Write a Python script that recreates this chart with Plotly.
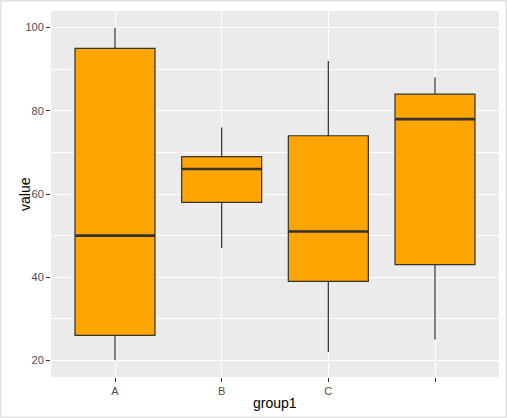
import plotly.graph_objects as go

groups = ["A", "B", "C", "D"]
tick_labels = ["A", "B", "C", ""]
lower = [20, 47, 22, 25]
q1 = [26, 58, 39, 43]
median = [50, 66, 51, 78]
q3 = [95, 69, 74, 84]
upper = [100, 76, 92, 88]

pos = list(range(len(groups)))
box_w = 0.75

fig = go.Figure()
fig.add_trace(go.Box(
    x=pos, q1=q1, median=median, q3=q3,
    lowerfence=lower, upperfence=upper,
    width=box_w, whiskerwidth=0,
    fillcolor="#FFA500",
    line=dict(color="#333333", width=1.2),
    boxpoints=False, hoverinfo="skip",
))

# ggplot draws the median thicker than the box outline
mx, my = [], []
for p, m in zip(pos, median):
    mx += [p - box_w / 2, p + box_w / 2, None]
    my += [m, m, None]
fig.add_trace(go.Scatter(x=mx, y=my, mode="lines",
                         line=dict(color="#333333", width=2.6),
                         hoverinfo="skip"))

fig.add_shape(type="rect", xref="paper", yref="paper",
              x0=-51 / 448, x1=456 / 448, y0=-41 / 366, y1=377 / 366,
              line=dict(color="#e3e3e3", width=3), layer="below")

fig.add_annotation(text="group1", xref="paper", yref="paper",
                   x=0.5, y=-26 / 366, yanchor="middle", showarrow=False,
                   font=dict(size=14, color="black"))
fig.add_annotation(text="value", xref="paper", yref="paper",
                   x=-36 / 448, y=0.5, textangle=-90, showarrow=False,
                   font=dict(size=14, color="black"))

fig.update_layout(
    width=507, height=418,
    margin=dict(l=51, r=8, t=11, b=41),
    paper_bgcolor="white", plot_bgcolor="#EBEBEB",
    showlegend=False,
    font=dict(family="Liberation Sans, Arial, sans-serif", size=11, color="#4d4d4d"),
    xaxis=dict(
        range=[-0.6, 3.6], tickmode="array", tickvals=pos, ticktext=tick_labels,
        showgrid=True, gridcolor="white", gridwidth=1.1, zeroline=False,
        ticks="outside", ticklen=4, tickcolor="#333333", tickwidth=1,
        automargin=False,
    ),
    yaxis=dict(
        range=[16, 104], tickvals=[20, 40, 60, 80, 100],
        showgrid=True, gridcolor="white", gridwidth=1.1, zeroline=False,
        ticks="outside", ticklen=4, tickcolor="#333333", tickwidth=1,
        automargin=False,
        minor=dict(tickvals=[30, 50, 70, 90], showgrid=True,
                   gridcolor="white", gridwidth=0.5, ticks=""),
    ),
)

fig.write_html("out.html", config={"displayModeBar": False},
               post_script="document.body.style.margin='0';")
